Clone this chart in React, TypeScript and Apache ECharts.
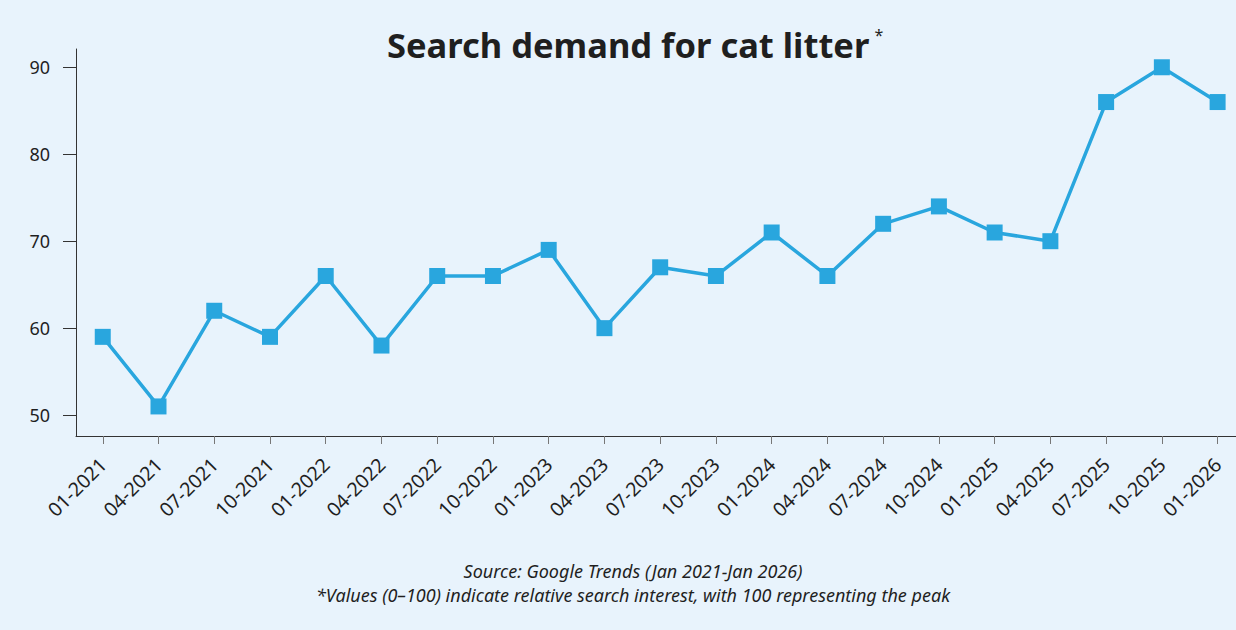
import React, { useEffect, useRef } from "react";
import * as echarts from "echarts";

const categories = [
  "01-2021", "04-2021", "07-2021", "10-2021",
  "01-2022", "04-2022", "07-2022", "10-2022",
  "01-2023", "04-2023", "07-2023", "10-2023",
  "01-2024", "04-2024", "07-2024", "10-2024",
  "01-2025", "04-2025", "07-2025", "10-2025",
  "01-2026",
];
const values = [59, 51, 62, 59, 66, 58, 66, 66, 69, 60, 67, 66, 71, 66, 72, 74, 71, 70, 86, 90, 86];
const yTicks = [50, 60, 70, 80, 90];

const TITLE = "Search demand for cat litter";
const SOURCE = "Source: Google Trends (Jan 2021-Jan 2026)";
const NOTE = "*Values (0\u2013100) indicate relative search interest, with 100 representing the peak";

const BG = "#e8f3fc";
const LINE = "#29a6de";
const INK = "#1f1f1f";
const FONT = "'Noto Sans', 'Open Sans', sans-serif";

export default function App() {
  const ref = useRef<HTMLDivElement>(null);

  useEffect(() => {
    if (!ref.current) return;
    const chart = echarts.init(ref.current, undefined, { renderer: "svg" });
    const idx = categories.map((_, i) => i);
    chart.setOption({
      animation: false,
      backgroundColor: BG,
      textStyle: { fontFamily: FONT },
      title: {
        text: TITLE + "{s|*}",
        left: 382,
        top: 22,
        textStyle: {
          fontFamily: FONT,
          fontSize: 34.5,
          fontWeight: "bold",
          color: INK,
          rich: {
            s: { fontSize: 16, fontWeight: "normal", color: INK, verticalAlign: "top", padding: [0, 0, 12, 5], fontFamily: FONT },
          },
        },
      },
      graphic: [
        {
          type: "text",
          x: 633,
          y: 562,
          style: { text: SOURCE, font: `italic 18px ${FONT}`, fill: INK, textAlign: "center", textVerticalAlign: "top" },
        },
        {
          type: "text",
          x: 633,
          y: 586,
          style: { text: NOTE, font: `italic 18px ${FONT}`, fill: INK, textAlign: "center", textVerticalAlign: "top" },
        },
      ],
      grid: { left: 76, right: 0, top: 49, bottom: 194, containLabel: false },
      xAxis: {
        type: "value",
        min: -0.48,
        max: 20.33,
        splitLine: { show: false },
        axisLine: { show: true, onZero: false, lineStyle: { color: "#333", width: 1 } },
        axisTick: {
          show: true,
          customValues: idx,
          length: 8,
          lineStyle: { color: "#777", width: 1 },
        },
        axisLabel: {
          customValues: idx,
          formatter: (v: number) => categories[Math.round(v)] ?? "",
          rotate: 45,
          fontSize: 19.5,
          color: INK,
          margin: 25,
          fontFamily: FONT,
        },
      },
      yAxis: {
        type: "value",
        min: 47.6,
        max: 92.1,
        splitLine: { show: false },
        axisLine: { show: true, onZero: false, lineStyle: { color: "#333", width: 1 } },
        axisTick: {
          show: true,
          customValues: yTicks,
          length: 13,
          lineStyle: { color: "#333", width: 1 },
        },
        axisLabel: {
          customValues: yTicks,
          fontSize: 18,
          color: INK,
          margin: 26,
          fontFamily: FONT,
        },
      },
      series: [
        {
          type: "line",
          data: values.map((v, i) => [i, v]),
          lineStyle: { color: LINE, width: 3.5 },
          itemStyle: { color: LINE },
          symbol: "rect",
          symbolSize: 16,
          showAllSymbol: true,
        },
      ],
    });
    return () => chart.dispose();
  }, []);

  return <div ref={ref} style={{ width: 1236, height: 630, position: "absolute", left: 0, top: 0 }} />;
}
